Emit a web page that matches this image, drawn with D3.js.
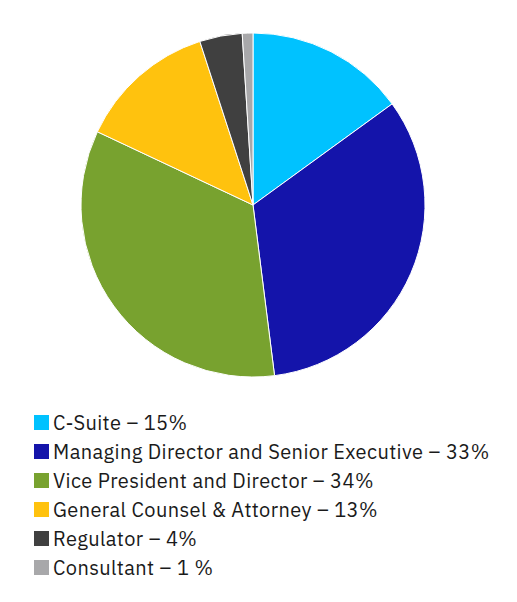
<!DOCTYPE html>
<html>
<head>
<meta charset="utf-8">
<script src="https://cdn.jsdelivr.net/npm/d3@7"></script>
<style>
  body { margin: 0; background: #fff; }
  text { font-family: "IBM Plex Sans", "Open Sans", sans-serif; fill: #1a1a1a; }
</style>
</head>
<body>
<svg id="chart" width="517" height="602"></svg>
<script>
// Datos del gráfico
const categorias = ["C-Suite", "Managing Director and Senior Executive", "Vice President and Director",
                    "General Counsel & Attorney", "Regulator", "Consultant"];
const valores = [15, 33, 34, 13, 4, 1];
const etiquetas = ["15%", "33%", "34%", "13%", "4%", "1 %"];
const colores = ["#00c2ff", "#1414aa", "#78a22f", "#ffc20e", "#404040", "#a8a8aa"];

const svg = d3.select("#chart");
const cx = 253, cy = 205, R = 172;

const pie = d3.pie().sort(null).value(d => d.v);
const arc = d3.arc().innerRadius(0).outerRadius(R);

const datos = valores.map((v, i) => ({ v: v, i: i }));

// Dibujar el pastel
svg.append("g")
    .attr("transform", `translate(${cx},${cy})`)
    .selectAll("path")
    .data(pie(datos))
    .join("path")
    .attr("d", arc)
    .attr("fill", d => colores[d.data.i])
    .attr("stroke", "#fff")
    .attr("stroke-width", 1);

// Leyenda
const y = d3.scaleBand().domain(d3.range(categorias.length)).range([408, 582]);

const leyenda = svg.append("g")
    .selectAll("g")
    .data(categorias)
    .join("g")
    .attr("transform", (d, i) => `translate(34,${y(i) + y.bandwidth() / 2})`);

leyenda.append("rect")
    .attr("x", 0)
    .attr("y", -7.5)
    .attr("width", 15)
    .attr("height", 15)
    .attr("fill", (d, i) => colores[i]);

leyenda.append("text")
    .attr("x", 19)
    .attr("y", 7)
    .attr("font-size", 20)
    .attr("letter-spacing", 0.4)
    .text((d, i) => `${d} – ${etiquetas[i]}`);
</script>
</body>
</html>
